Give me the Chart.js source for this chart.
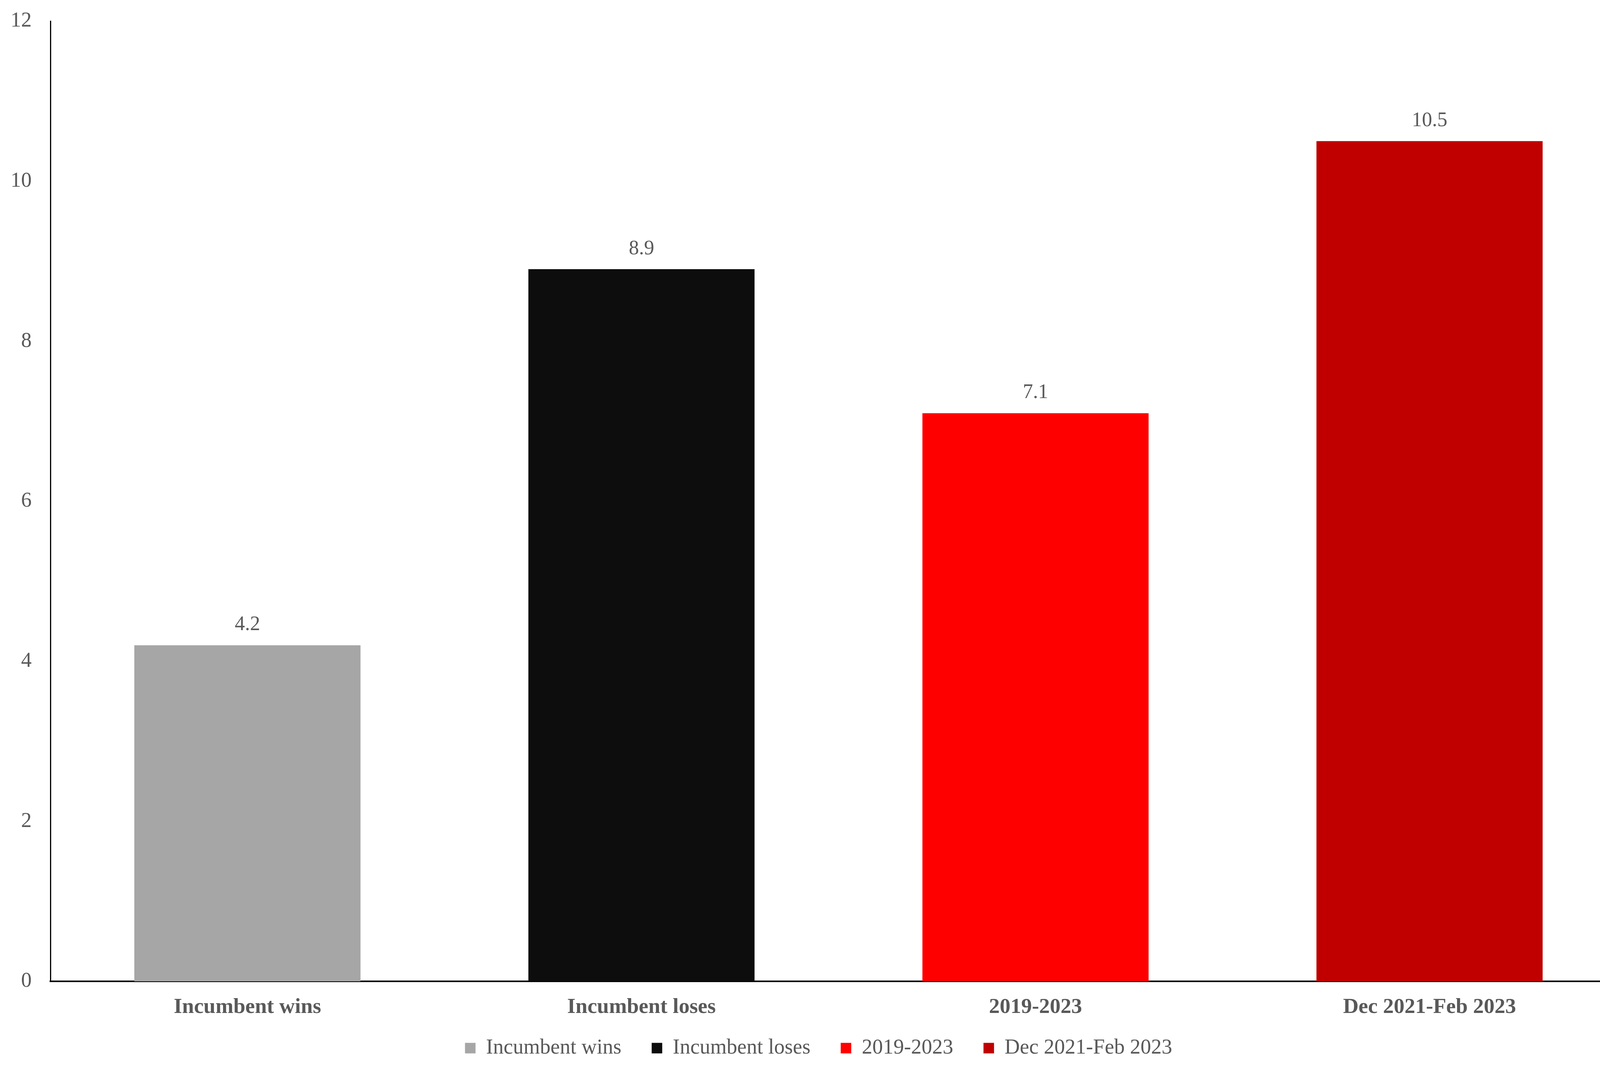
<!DOCTYPE html>
<html>
<head>
<meta charset="utf-8">
<script src="https://cdn.jsdelivr.net/npm/chart.js@4"></script>
<style>
  html, body { margin: 0; padding: 0; background: #ffffff; overflow: hidden; }
  #wrap { width: 4196px; height: 2739px; }
  canvas { display: block; }
</style>
</head>
<body>
<div id="wrap"><canvas id="chart" width="4196" height="2739"></canvas></div>
<script>
// chart data
const categories = ['Incumbent wins', 'Incumbent loses', '2019-2023', 'Dec 2021-Feb 2023'];
const values = [4.2, 8.9, 7.1, 10.5];
const barColors = ['#a6a6a6', '#0d0d0d', '#ff0000', '#c00000'];
const yMin = 0, yMax = 12, yStep = 2;

const textColor = '#595959';
Chart.defaults.font.family = '"Liberation Serif", "DejaVu Serif", serif';
Chart.defaults.color = textColor;

// draw the value above each bar
const valueLabels = {
     id: 'valueLabels',
     afterDatasetsDraw(chart) {
          const ctx = chart.ctx;
          const meta = chart.getDatasetMeta(0);
          ctx.save();
          ctx.font = '52px "Liberation Serif", serif';
          ctx.fillStyle = textColor;
          ctx.textAlign = 'center';
          ctx.textBaseline = 'middle';
          meta.data.forEach((bar, i) => {
               ctx.fillText(values[i].toFixed(1), bar.x, bar.y - 52);
          });
          ctx.restore();
     }
};

new Chart(document.getElementById('chart'), {
     type: 'bar',
     data: {
          labels: categories,
          datasets: [{
               data: values,
               backgroundColor: barColors,
               borderWidth: 0,
               barPercentage: 0.574,
               categoryPercentage: 1.0
          }]
     },
     options: {
          responsive: false,
          devicePixelRatio: 1,
          animation: false,
          layout: { padding: { left: 27, right: 32, top: 54, bottom: 19 } },
          scales: {
               x: {
                    grid: { display: false, drawTicks: false },
                    border: { display: true, color: '#000000', width: 4 },
                    ticks: { padding: 34, color: textColor, font: { size: 55, weight: 'bold' } }
               },
               y: {
                    min: yMin,
                    max: yMax,
                    grid: { display: false, drawTicks: false },
                    border: { display: true, color: '#000000', width: 3 },
                    ticks: { stepSize: yStep, padding: 48, color: textColor, font: { size: 54 } },
                    afterFit(scale) {
                         scale.width = 102;
                         scale.paddingTop = 0;
                    }
               }
          },
          plugins: {
               tooltip: { enabled: false },
               legend: {
                    position: 'bottom',
                    labels: {
                         font: { size: 54 },
                         color: textColor,
                         boxWidth: 27,
                         boxHeight: 27,
                         padding: 10,
                         generateLabels() {
                              // trailing spaces widen the gap between entries
                              return categories.map((c, i) => ({
                                   text: i < categories.length - 1 ? c + '     ' : c,
                                   fillStyle: barColors[i],
                                   strokeStyle: barColors[i],
                                   lineWidth: 0,
                                   fontColor: textColor,
                                   hidden: false,
                                   index: i,
                                   datasetIndex: 0
                              }));
                         }
                    }
               }
          }
     },
     plugins: [valueLabels]
});
</script>
</body>
</html>
